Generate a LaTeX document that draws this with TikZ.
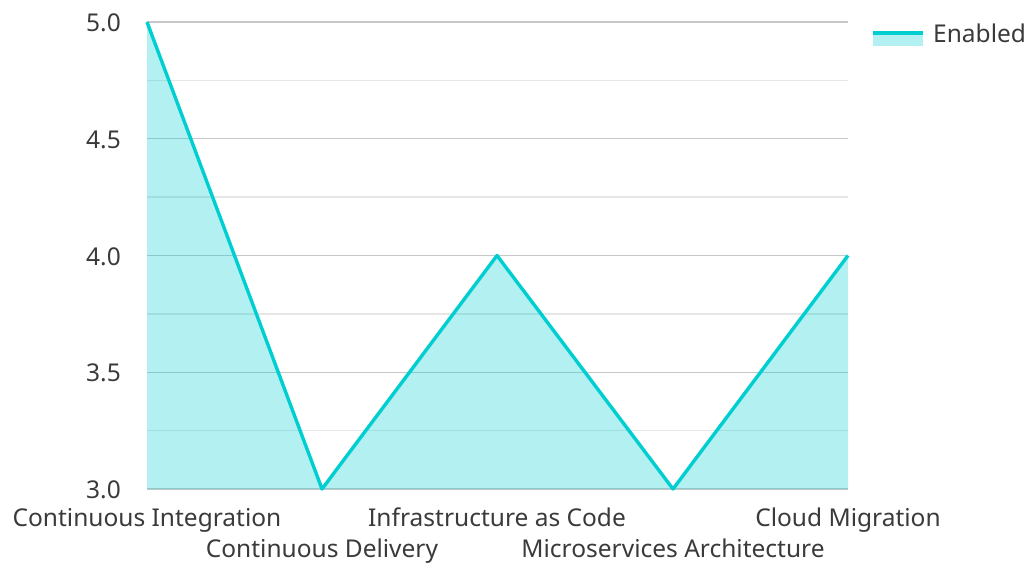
\documentclass[tikz,border=0pt]{standalone}
\usepackage{fontspec}
\setmainfont{Noto Sans}

\definecolor{linie}{HTML}{00CED1}
\definecolor{gitter}{HTML}{C8C8C8}
\definecolor{gitterfein}{HTML}{E6E6E6}
\definecolor{schrift}{HTML}{3A3A3A}

\tikzset{
  haupt/.style={draw=gitter, line width=1.4pt},
  fein/.style={draw=gitterfein, line width=1.4pt},
  flaeche/.style={fill=linie, fill opacity=0.3},
  kurve/.style={draw=linie, line width=3.4pt, line join=round},
  beschr/.style={text=schrift, inner sep=0pt}
}

\begin{document}
\begin{tikzpicture}[x=1pt, y=-1pt, font=\fontsize{24.5}{29}\selectfont]
\useasboundingbox (0,0) rectangle (1029,563);
% Gitterlinien
\foreach \v in {3.25,3.75,4.25,4.75}
  \draw[fein] (147,{489-(\v-3)*233.5}) -- (848,{489-(\v-3)*233.5});
\foreach \v in {3.0,3.5,4.0,4.5,5.0} {
  \draw[haupt] (147,{489-(\v-3)*233.5}) -- (848,{489-(\v-3)*233.5});
  \node[beschr, anchor=base east] at (121,{489-(\v-3)*233.5+9.5}) {\v};
}
% Datenpunkte
\coordinate (ci) at (147,22);
\coordinate (cd) at (322,489);
\coordinate (iac) at (497,255.5);
\coordinate (ma) at (673,489);
\coordinate (cm) at (848,255.5);
% Flaeche und Linie
\fill[flaeche] (147,489) -- (ci) -- (cd) -- (iac) -- (ma) -- (cm) -- (848,489) -- cycle;
\draw[kurve] (ci) -- (cd) -- (iac) -- (ma) -- (cm);
% Achsenbeschriftung
\node[beschr, anchor=base] (lci) at (147,526) {Continuous Integration};
\node[beschr, anchor=base] (lcd) at (322,557) {Continuous Delivery};
\node[beschr, anchor=base] (liac) at (497,526) {Infrastructure as Code};
\node[beschr, anchor=base] (lma) at (673,557) {Microservices Architecture};
\node[beschr, anchor=base] (lcm) at (848,526) {Cloud Migration};
% Legende
\fill[flaeche] (873,31) rectangle (923,46);
\draw[linie, line width=3.5pt] (873,33) -- (923,33);
\node[beschr, anchor=base west] (leg) at (933,42) {Enabled};
\end{tikzpicture}
\end{document}
